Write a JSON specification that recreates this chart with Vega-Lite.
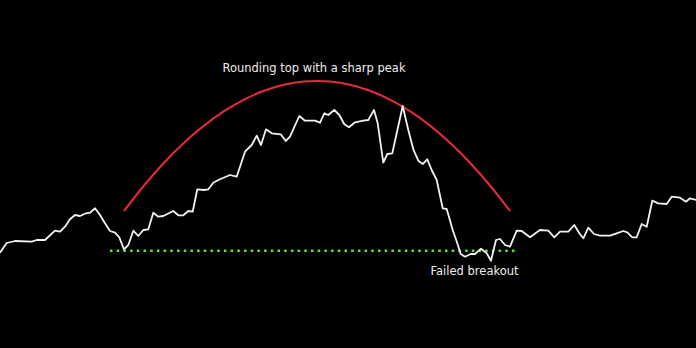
{
  "$schema": "https://vega.github.io/schema/vega-lite/v6.json",
  "width": 696,
  "height": 348,
  "padding": 0,
  "autosize": {"type": "fit", "contains": "padding"},
  "background": "#000000",
  "config": {"view": {"stroke": null}},
  "datasets": {
    "price": [
      {"x":0,"y":252.7},{"x":6.7,"y":243},{"x":15,"y":241},{"x":31.7,"y":241.7},{"x":36.7,"y":240},{"x":45,"y":240},
      {"x":55,"y":230.7},{"x":60,"y":231.7},{"x":65,"y":226.7},{"x":70,"y":219.3},{"x":75,"y":215},{"x":80,"y":216},
      {"x":86,"y":213.3},{"x":90,"y":212.7},{"x":95,"y":208.3},{"x":100,"y":215},{"x":105,"y":223.3},{"x":110,"y":231},
      {"x":115,"y":232.7},{"x":119.3,"y":237.3},{"x":124,"y":249.3},{"x":128.3,"y":245},{"x":133.3,"y":230.7},{"x":138.3,"y":236},
      {"x":143.3,"y":230},{"x":148.3,"y":229.3},{"x":153.3,"y":212.7},{"x":158.3,"y":216.7},{"x":163.3,"y":216},{"x":173.3,"y":211},
      {"x":178.3,"y":215.3},{"x":183.3,"y":215.3},{"x":188.3,"y":211},{"x":192.7,"y":211.7},{"x":197.3,"y":189.3},{"x":204,"y":190},
      {"x":208.3,"y":189.3},{"x":213.3,"y":182.7},{"x":218.3,"y":180},{"x":230,"y":175},{"x":236.7,"y":176.7},{"x":245,"y":151.7},
      {"x":251.7,"y":145},{"x":256.7,"y":135.7},{"x":261,"y":145},{"x":266,"y":129.3},{"x":271.7,"y":133.3},{"x":280.7,"y":134.3},
      {"x":285.7,"y":141},{"x":290,"y":136.7},{"x":299.3,"y":116},{"x":305,"y":120.7},{"x":315,"y":120.7},{"x":320,"y":122.7},
      {"x":324.3,"y":113.3},{"x":328.3,"y":115},{"x":334.3,"y":110},{"x":339.3,"y":115},{"x":344.3,"y":124.3},{"x":349,"y":127.3},
      {"x":355,"y":122.3},{"x":363.3,"y":120.7},{"x":368.3,"y":120},{"x":374,"y":110},{"x":377.7,"y":123.3},{"x":383.3,"y":162.7},
      {"x":387.3,"y":154},{"x":392.3,"y":153.3},{"x":402.7,"y":106},{"x":408.3,"y":130},{"x":413.3,"y":149.3},{"x":418.3,"y":160.7},
      {"x":422.7,"y":164},{"x":427.3,"y":159.3},{"x":431.7,"y":170},{"x":436.7,"y":180},{"x":442.7,"y":208.3},{"x":446.7,"y":209},
      {"x":452.7,"y":230},{"x":457.3,"y":243.3},{"x":460.7,"y":254},{"x":465,"y":256.7},{"x":470.7,"y":254},{"x":475,"y":254},
      {"x":481,"y":248.7},{"x":486.7,"y":253.3},{"x":491,"y":260.7},{"x":496,"y":240},{"x":500,"y":239},{"x":505,"y":245},
      {"x":510,"y":246.7},{"x":516.7,"y":230.7},{"x":521.7,"y":231},{"x":530,"y":237.3},{"x":540,"y":230},{"x":548.3,"y":230.7},
      {"x":554.3,"y":237.3},{"x":560,"y":231.7},{"x":568.3,"y":231.7},{"x":574.3,"y":225},{"x":579.3,"y":233.3},{"x":583.3,"y":238.3},
      {"x":588.3,"y":227.7},{"x":594,"y":234},{"x":600,"y":235.7},{"x":610,"y":235.7},{"x":616.7,"y":233.3},{"x":623.3,"y":231},
      {"x":627.3,"y":232.3},{"x":632.3,"y":237.3},{"x":636.7,"y":237.3},{"x":641.7,"y":224},{"x":646.7,"y":226.7},{"x":652.3,"y":200.7},
      {"x":658.3,"y":203.3},{"x":666.7,"y":204},{"x":671.7,"y":196.7},{"x":680,"y":197.7},{"x":686,"y":201.7},{"x":690,"y":198.3},
      {"x":696,"y":200}
    ],
    "arc": [
      {"x":124,"y":211},{"x":144,"y":185.5},{"x":164,"y":162.7},{"x":184,"y":142.7},{"x":204,"y":125.6},{"x":224,"y":111.2},
      {"x":244,"y":99.6},{"x":264,"y":90.8},{"x":284,"y":84.8},{"x":304,"y":81.6},{"x":317,"y":81},{"x":330,"y":81.6},
      {"x":350,"y":84.8},{"x":370,"y":90.8},{"x":390,"y":99.6},{"x":410,"y":111.2},{"x":430,"y":125.6},{"x":450,"y":142.7},
      {"x":470,"y":162.7},{"x":490,"y":185.5},{"x":510,"y":211}
    ],
    "support": [{"x":110,"y":250.7},{"x":515,"y":250.7}],
    "labels": [
      {"x":314,"y":69,"label":"Rounding top with a sharp peak"},
      {"x":474.5,"y":271.5,"label":"Failed breakout"}
    ]
  },
  "encoding": {
    "x": {"field":"x","type":"quantitative","scale":{"domain":[0,696],"nice":false,"zero":false},"axis":null},
    "y": {"field":"y","type":"quantitative","scale":{"domain":[0,348],"reverse":true,"nice":false,"zero":false},"axis":null}
  },
  "layer": [
    {"data":{"name":"support"},"mark":{"type":"line","color":"#5ce82a","strokeWidth":2.5,"strokeDash":[2.5,4.2],"clip":true}},
    {"data":{"name":"arc"},"mark":{"type":"line","color":"#e8293a","strokeWidth":2,"interpolate":"monotone","clip":true}},
    {"data":{"name":"price"},"mark":{"type":"line","color":"#f2f2f2","strokeWidth":1.8,"strokeJoin":"round","clip":true}},
    {"data":{"name":"labels"},"mark":{"type":"text","color":"#eeeeee","font":"DejaVu Sans","fontSize":11.5,"align":"center","baseline":"middle"},
     "encoding":{"text":{"field":"label"}}}
  ]
}
